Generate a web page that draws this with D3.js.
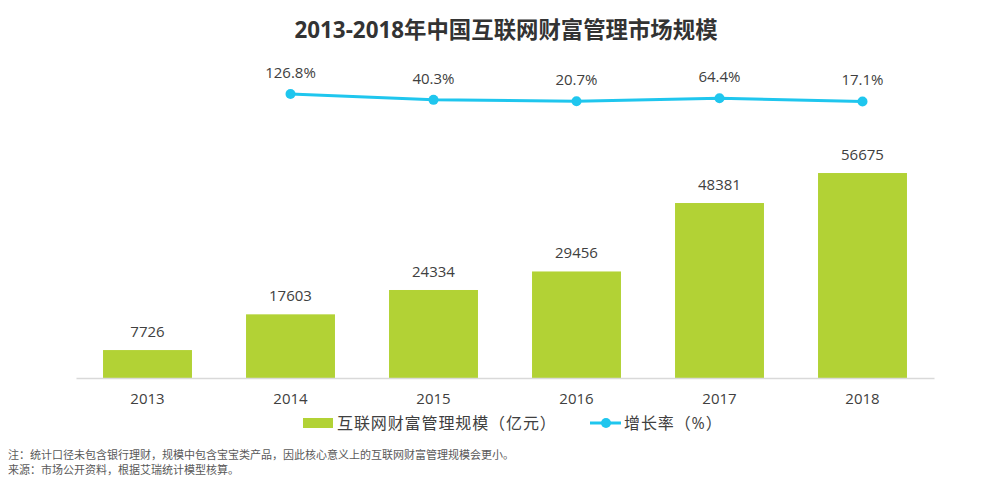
<!DOCTYPE html>
<html lang="zh">
    <head>
        <meta charset="UTF-8">
        <style>
            html, body{
                margin: 0;
                padding: 0;
                background: #fff;
                font-family: 'Open Sans', 'Noto Sans CJK SC', sans-serif;
            }
            svg text{ fill: #404040; }
            #title{ fill: #333; font-weight: bold; }
            .note{ fill: #595959; }
        </style>
    </head>
    <body>
        <svg id="chart" width="995" height="479"></svg>

        <script src="https://d3js.org/d3.v7.min.js"></script>
        <script>
            // data
            const years = ['2013', '2014', '2015', '2016', '2017', '2018']
            const scaleValues = [7726, 17603, 24334, 29456, 48381, 56675]
            const growthYears = ['2014', '2015', '2016', '2017', '2018']
            const growthValues = [126.8, 40.3, 20.7, 64.4, 17.1]
            const titleText = '2013-2018年中国互联网财富管理市场规模'
            const legendLabels = ['互联网财富管理规模（亿元）', '增长率（%）']
            const notes = [
                '注：统计口径未包含银行理财，规模中包含宝宝类产品，因此核心意义上的互联网财富管理规模会更小。',
                '来源：市场公开资料，根据艾瑞统计模型核算。'
            ]

            const barColor = '#b2d235'
            const lineColor = '#1fc6ee'

            const svg = d3.select('#chart')

            // scales
            const x = d3.scaleBand().domain(years).range([76, 934]).paddingInner(0.378).paddingOuter(0.189)
            const y = d3.scaleLinear().domain([0, 60000]).range([378, 161])
            const y2 = d3.scaleLinear().domain([0, 150]).range([102.6, 92.4])

            // title
            svg.append('text').attr('id', 'title')
                .attr('x', 506).attr('y', 38)
                .attr('text-anchor', 'middle')
                .style('font-size', '22.4px')
                .text(titleText)

            // bars
            svg.append('g').selectAll('rect')
                .data(years)
                .join('rect')
                .attr('x', d => x(d))
                .attr('y', (d, i) => y(scaleValues[i]))
                .attr('width', x.bandwidth())
                .attr('height', (d, i) => y(0) - y(scaleValues[i]))
                .attr('fill', barColor)

            svg.append('g').selectAll('text')
                .data(years)
                .join('text')
                .attr('x', d => x(d) + x.bandwidth() / 2)
                .attr('y', (d, i) => y(scaleValues[i]) - 13)
                .attr('text-anchor', 'middle')
                .style('font-size', '15px')
                .text((d, i) => scaleValues[i])

            // x axis
            const xAxis = svg.append('g')
                .attr('transform', 'translate(0,378)')
                .call(d3.axisBottom(x).tickSize(0).tickPadding(15))
            xAxis.select('.domain').attr('stroke', '#d9d9d9').attr('stroke-width', 1.5)
            xAxis.selectAll('text')
                .style('font-size', '15px')
                .style('font-family', "'Open Sans', 'Noto Sans CJK SC', sans-serif")
                .attr('fill', '#404040')

            // growth line
            const cx = d => x(d) + x.bandwidth() / 2
            const line = d3.line()
                .x((d, i) => cx(growthYears[i]))
                .y(d => y2(d))

            svg.append('path')
                .datum(growthValues)
                .attr('d', line)
                .attr('fill', 'none')
                .attr('stroke', lineColor)
                .attr('stroke-width', 3)

            svg.append('g').selectAll('circle')
                .data(growthValues)
                .join('circle')
                .attr('cx', (d, i) => cx(growthYears[i]))
                .attr('cy', d => y2(d))
                .attr('r', 5)
                .attr('fill', lineColor)

            svg.append('g').selectAll('text')
                .data(growthValues)
                .join('text')
                .attr('x', (d, i) => cx(growthYears[i]))
                .attr('y', d => y2(d) - 16)
                .attr('text-anchor', 'middle')
                .style('font-size', '15px')
                .text(d => d.toFixed(1) + '%')

            // legend
            const legend = svg.append('g').attr('transform', 'translate(0,423)')
            legend.append('rect')
                .attr('x', 303).attr('y', -5).attr('width', 30).attr('height', 10)
                .attr('fill', barColor)
            legend.append('text')
                .attr('x', 337).attr('y', 6)
                .style('font-size', '16px')
                .style('letter-spacing', '0.9px')
                .text(legendLabels[0])
            legend.append('line')
                .attr('x1', 590).attr('x2', 621).attr('y1', 0).attr('y2', 0)
                .attr('stroke', lineColor).attr('stroke-width', 3)
            legend.append('circle')
                .attr('cx', 606).attr('cy', 0).attr('r', 5)
                .attr('fill', lineColor)
            legend.append('text')
                .attr('x', 624).attr('y', 6)
                .style('font-size', '16px')
                .style('letter-spacing', '0.9px')
                .text(legendLabels[1])

            // notes
            svg.append('g').selectAll('text')
                .data(notes)
                .join('text')
                .attr('class', 'note')
                .attr('x', 8)
                .attr('y', (d, i) => 459 + i * 15)
                .style('font-size', '11px')
                .text(d => d)
        </script>
    </body>
</html>
